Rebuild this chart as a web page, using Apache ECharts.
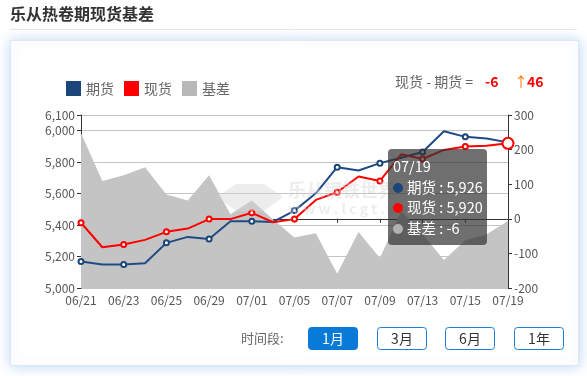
<!DOCTYPE html>
<html>
<head>
<meta charset="utf-8">
<script src="https://cdn.jsdelivr.net/npm/echarts@6/dist/echarts.min.js"></script>
<style>
html,body{margin:0;padding:0;background:#fff;}
#c{width:587px;height:376px;}
</style>
</head>
<body>
<div id="c"></div>
<script>
const categories = ['06/21','06/22','06/23','06/24','06/25','06/28','06/29','06/30','07/01','07/02','07/05','07/06','07/07','07/08','07/09','07/12','07/13','07/14','07/15','07/16','07/19'];
const futures = [5168,5150,5150,5157,5287,5325,5312,5425,5425,5420,5492,5602,5768,5747,5794,5828,5865,5997,5961,5950,5926];
const spot    = [5415,5259,5276,5306,5357,5378,5438,5438,5478,5418,5438,5560,5609,5709,5681,5850,5820,5878,5899,5905,5920];
const basis   = [247,109,126,149,70,53,126,13,53,-2,-54,-42,-159,-38,-113,22,-45,-119,-62,-45,-6];
const seriesNames = ['期货','现货','基差'];
const buttonLabels = ['1月','3月','6月','1年'];

const FONT = "'Noto Sans CJK SC','Microsoft YaHei',sans-serif";
const colors = {fut:'#1c4579', spot:'#ff0000', basis:'#b8b8b8'};
const markerColors = {'期货':'#1c4579','现货':'#ff0000','基差':'#b0b0b0'};

const chart = echarts.init(document.getElementById('c'), null, {renderer:'canvas'});

const btnX = [308, 377, 445, 514];
const btnGraphics = [];
buttonLabels.forEach((t,i)=>{
  const active = i===0;
  btnGraphics.push({
    type:'rect', z:5,
    shape:{x:btnX[i]+0.5, y:327.5, width:49, height:22, r:3},
    style:{fill: active ? '#0a7ad9' : '#fff', stroke: active ? '#0a7ad9' : '#1a7fd6', lineWidth:1}
  });
  btnGraphics.push({
    type:'text', z:6,
    style:{text:t, x:btnX[i]+25, y:338.5, align:'center', verticalAlign:'middle', fill: active ? '#fff' : '#333', fontSize:14, fontFamily:FONT}
  });
});

const WM = 'rgba(215,215,215,0.45)';
const option = {
  animation:false,
  textStyle:{fontFamily:FONT},
  graphic:[
    {type:'text', z:5, style:{text:'乐从热卷期现货基差', x:10, y:14, verticalAlign:'middle', fill:'#333', fontSize:16, fontWeight:'bold', fontFamily:FONT}},
    {type:'line', z:5, shape:{x1:10, y1:29.5, x2:577, y2:29.5}, style:{stroke:'#e6e6e6', lineWidth:1}},
    {type:'rect', z:-10, shape:{x:10.5, y:40.5, width:568, height:325}, style:{fill:'#fff', stroke:'#dfe7f1', lineWidth:1, shadowBlur:12, shadowColor:'rgba(110,165,235,0.45)'}},
    {type:'text', z:5, style:{text:'现货 - 期货 =', x:395, y:82, verticalAlign:'middle', fill:'#666', fontSize:14, fontFamily:FONT}},
    {type:'text', z:5, style:{text:'-6', x:485, y:82, verticalAlign:'middle', fill:'#ff0000', fontSize:14, fontWeight:'bold', fontFamily:FONT}},
    {type:'text', z:5, style:{text:'↑', x:514, y:82, verticalAlign:'middle', fill:'#ff7a00', fontSize:14, fontFamily:FONT}},
    {type:'text', z:5, style:{text:'46', x:527, y:82, verticalAlign:'middle', fill:'#ff0000', fontSize:14, fontWeight:'bold', fontFamily:FONT}},
    {type:'text', z:5, style:{text:'时间段:', x:241, y:338.5, verticalAlign:'middle', fill:'#666', fontSize:13, fontFamily:FONT}},
    {type:'text', z:20, style:{text:'乐从钢铁世界', x:288, y:190, verticalAlign:'middle', fill:WM, fontSize:18, fontWeight:'bold', fontFamily:FONT}},
    {type:'text', z:20, style:{text:'w w w . l c g t . c n', x:288, y:209, verticalAlign:'middle', fill:WM, fontSize:14, fontWeight:'bold', fontFamily:FONT}},
    {type:'polygon', z:20, shape:{points:[[217,197],[236,184],[264,184],[283,197],[264,211],[236,211]]}, style:{fill:WM}}
  ].concat(btnGraphics),
  legend:{
    data:seriesNames, left:61, top:76, icon:'rect', itemWidth:15, itemHeight:15, itemGap:10,
    textStyle:{fontSize:14, color:'#666', fontFamily:FONT}
  },
  grid:{left:81, right:79, top:115, bottom:88},
  tooltip:{
    trigger:'axis', triggerOn:'none', alwaysShowContent:true,
    axisPointer:{type:'none'},
    position:[388,149],
    backgroundColor:'rgba(50,50,50,0.7)', borderWidth:0, padding:[7,4,7,5],
    extraCssText:'box-shadow:none;border-radius:4px;',
    textStyle:{color:'#fff', fontSize:14, fontFamily:FONT},
    formatter:function(params){
      let s = '<div style="line-height:20.5px;font-size:14.5px;color:#fff;">' + params[0].axisValue;
      const order = ['期货','现货','基差'];
      order.forEach(n=>{
        const p = params.find(q=>q.seriesName===n);
        if(!p) return;
        s += '<br/><span style="display:inline-block;width:10px;height:10px;border-radius:5px;margin-right:4px;vertical-align:middle;position:relative;top:-1px;background:' + markerColors[n] + '"></span>' + n + ' : ' + Number(p.value).toLocaleString('en-US');
      });
      return s + '</div>';
    }
  },
  xAxis:{
    type:'category', data:categories, boundaryGap:false,
    axisLine:{lineStyle:{color:'#333'}},
    axisTick:{interval:1, length:4, lineStyle:{color:'#333'}},
    axisLabel:{interval:1, color:'#555', fontSize:12, margin:6}
  },
  yAxis:[
    {type:'value', min:5000, max:6100, interval:200,
     axisLine:{show:true, lineStyle:{color:'#333'}},
     axisTick:{show:true, length:4, lineStyle:{color:'#333'}},
     axisLabel:{color:'#555', fontSize:12, margin:6, formatter:v=>Number(v).toLocaleString('en-US')},
     splitLine:{lineStyle:{color:'#c4c4c4'}}},
    {type:'value', min:-200, max:300, interval:100, position:'right',
     axisLine:{show:true, lineStyle:{color:'#333'}},
     axisTick:{show:true, length:4, lineStyle:{color:'#333'}},
     axisLabel:{color:'#555', fontSize:12, margin:6},
     splitLine:{show:false}}
  ],
  series:[
    {name:'基差', type:'line', yAxisIndex:1, data:basis, symbol:'none', showSymbol:false,
     itemStyle:{color:colors.basis}, lineStyle:{width:0},
     areaStyle:{color:'#b3b3b3', opacity:1, origin:'start'}, z:1},
    {name:'期货', type:'line', data:futures, symbol:'emptyCircle', symbolSize:5, showAllSymbol:false,
     itemStyle:{color:colors.fut}, lineStyle:{width:2, color:colors.fut}, emphasis:{scale:1.6}, z:3},
    {name:'现货', type:'line', data:spot, symbol:'emptyCircle', symbolSize:5, showAllSymbol:false,
     itemStyle:{color:colors.spot}, lineStyle:{width:2, color:colors.spot}, emphasis:{scale:2.2}, z:4}
  ]
};
chart.setOption(option);
chart.dispatchAction({type:'showTip', seriesIndex:2, dataIndex:20});
</script>
</body>
</html>
